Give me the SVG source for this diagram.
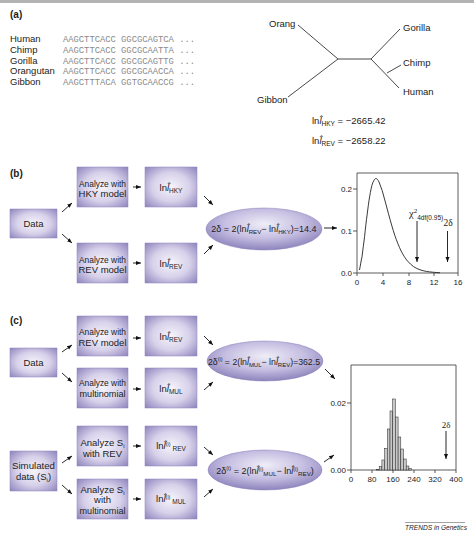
<svg xmlns="http://www.w3.org/2000/svg" width="474" height="537" viewBox="0 0 474 537">
<style>
text{font-family:"Liberation Sans",Arial,sans-serif;fill:#222}
.lab{font-size:10px;font-weight:bold}
.nm{font-size:9.5px}
.seq{font-family:"Liberation Mono","Courier New",monospace;font-size:8.8px;fill:#8a8a8a}
.bt{font-size:9.5px;text-anchor:middle}
.f{font-size:9px;text-anchor:middle}
.s{font-size:6.2px}
.it{font-style:italic}
.tk{font-size:8px}
.ser{font-family:"Liberation Serif","Times New Roman",serif}
.box{fill:url(#bg);stroke:#8d84bd;stroke-width:0.5}
.ell{fill:url(#eg);stroke:#8a80bb;stroke-width:0.5}
.ar{stroke:#111;stroke-width:0.9;fill:none;marker-end:url(#ah)}
.ax{stroke:#333;stroke-width:0.8;fill:none}
.tree{stroke:#333;stroke-width:0.9;fill:none}
</style>
<defs>
<radialGradient id="bg" cx="0.5" cy="0.5" r="0.72">
<stop offset="0" stop-color="#f6f4fb"/>
<stop offset="0.5" stop-color="#d7d1ea"/>
<stop offset="1" stop-color="#8a7fba"/>
</radialGradient>
<radialGradient id="eg" cx="0.5" cy="0.38" r="0.68">
<stop offset="0" stop-color="#efedf7"/>
<stop offset="0.5" stop-color="#c6bfe2"/>
<stop offset="1" stop-color="#8177b4"/>
</radialGradient>
<marker id="ah" viewBox="0 0 10 10" refX="10" refY="5" markerWidth="5" markerHeight="5" markerUnits="userSpaceOnUse" orient="auto">
<path d="M0,1 L10,5 L0,9 z" fill="#111"/>
</marker>
</defs>
<rect x="0" y="0" width="474" height="3" fill="#b3b3b3"/>

<g id="panel-a">
<text class="lab" x="10" y="18">(a)</text>
<text class="nm" x="10" y="42">Human</text>
<text class="nm" x="10" y="53">Chimp</text>
<text class="nm" x="10" y="63.5">Gorilla</text>
<text class="nm" x="10" y="74">Orangutan</text>
<text class="nm" x="10" y="84.5">Gibbon</text>
<text class="seq" x="63" y="42">AAGCTTCACC GGCGCAGTCA ...</text>
<text class="seq" x="63" y="53">AAGCTTCACC GGCGCAATTA ...</text>
<text class="seq" x="63" y="63.5">AAGCTTCACC GGCGCAGTTG ...</text>
<text class="seq" x="63" y="74">AAGCTTCACC GGCGCAACCA ...</text>
<text class="seq" x="63" y="84.5">AAGCTTTACA GGTGCAACCG ...</text>
<g id="tree">
<path class="tree" d="M298,25 L338,59 L288,97 M338,59 L371,59 L400,29 M371,59 L399,88 M387,73 L401,65"/>
<text class="nm" x="269" y="27">Orang</text>
<text class="nm" x="257" y="103">Gibbon</text>
<text class="nm" x="403" y="31">Gorilla</text>
<text class="nm" x="403" y="66">Chimp</text>
<text class="nm" x="403" y="95">Human</text>
</g>
<text font-size="9.5" x="312" y="124">ln<tspan class="it">l̂</tspan><tspan font-size="6.5" dy="2">HKY</tspan><tspan dy="-2"> =  −2665.42</tspan></text>
<text font-size="9.5" x="312" y="144">ln<tspan class="it">l̂</tspan><tspan font-size="6.5" dy="2">REV</tspan><tspan dy="-2"> =  −2658.22</tspan></text>
</g>

<text class="lab" x="10" y="177">(b)</text>
<g id="b-data"><rect class="box" x="10" y="209" width="47" height="29"/><text class="bt" x="33.5" y="227">Data</text></g>
<g id="b-hky"><rect class="box" x="77" y="167" width="51" height="40"/><text class="bt" x="102.5" y="186.5" textLength="47" lengthAdjust="spacingAndGlyphs">Analyze with</text><text class="bt" x="102.5" y="197">HKY model</text></g>
<g id="b-lhky"><rect class="box" x="145" y="167" width="52" height="40"/><text class="bt" x="171" y="191">ln<tspan class="it">l̂</tspan><tspan font-size="6.5" dy="2">HKY</tspan></text></g>
<g id="b-rev"><rect class="box" x="77" y="243" width="51" height="40"/><text class="bt" x="102.5" y="262.5" textLength="47" lengthAdjust="spacingAndGlyphs">Analyze with</text><text class="bt" x="102.5" y="273">REV model</text></g>
<g id="b-lrev"><rect class="box" x="145" y="243" width="52" height="40"/><text class="bt" x="171" y="267">ln<tspan class="it">l̂</tspan><tspan font-size="6.5" dy="2">REV</tspan></text></g>
<g id="b-ell"><ellipse class="ell" cx="264" cy="229" rx="58" ry="21"/>
<text class="f" x="264" y="232">2δ = 2(ln<tspan class="it">l̂</tspan><tspan class="s" dy="2">REV</tspan><tspan dy="-2">− ln</tspan><tspan class="it">l̂</tspan><tspan class="s" dy="2">HKY</tspan><tspan dy="-2">)=14.4</tspan></text></g>

<g id="b-chart">
<path class="ax" d="M357,173 H458 V273 H357 Z M353,189 H357 M353,231 H357 M353,273 H357 M357,273 V276 M383,273 V276 M409,273 V276 M434,273 V276 M458,273 V276"/>
<text class="tk" x="352" y="192" text-anchor="end">0.2</text>
<text class="tk" x="352" y="234" text-anchor="end">0.1</text>
<text class="tk" x="352" y="276" text-anchor="end">0.0</text>
<text class="tk" x="357" y="285" text-anchor="middle">0</text>
<text class="tk" x="383" y="285" text-anchor="middle">4</text>
<text class="tk" x="409" y="285" text-anchor="middle">8</text>
<text class="tk" x="434" y="285" text-anchor="middle">12</text>
<text class="tk" x="458" y="285" text-anchor="middle">16</text>
<path d="M359.5,270 C360.5,265 361,261 362,256.8 C363,250 363.6,243 364.6,236.4 C365.4,229 366.2,221 367.1,214.9 C368,208 368.7,202 369.6,196.9 C370.6,191 371.5,186 372.75,182.8 C374,180 375,178.5 375.9,178.5 C377,178.5 378,180 379.05,182 C380,184.5 381,187.5 382.2,190.6 C384.3,198 386.4,206 388.5,213.8 C390.6,221.5 392.7,229 394.8,235.4 C396.9,241.5 399,246.5 401.1,251 C403.2,255 405.3,258.5 407.4,260.9 C409.5,263.3 411.6,265.2 413.7,266.7 C416,268.2 418,269.1 420,269.8 C422,270.5 424.3,271 426.3,271.4 C428.5,271.8 430.5,272 432.6,272.2 C435,272.4 437,272.6 440,272.8" fill="none" stroke="#222" stroke-width="0.9"/>
<text class="ser" font-size="10.5" x="409" y="217">χ<tspan font-size="7" dy="-4">2</tspan><tspan font-size="6.5" dy="6.5" font-family="Liberation Sans, Arial, sans-serif">4df(0.95)</tspan></text>
<line class="ar" x1="417" y1="221" x2="417" y2="262"/>
<text class="ser" font-size="9.5" x="448" y="226" text-anchor="middle">2δ</text>
<line class="ar" x1="447.5" y1="231" x2="447.5" y2="262"/>
</g>

<text class="lab" x="10" y="324">(c)</text>
<g id="c-rev"><rect class="box" x="77" y="316" width="51" height="40"/><text class="bt" x="102.5" y="335" textLength="47" lengthAdjust="spacingAndGlyphs">Analyze with</text><text class="bt" x="102.5" y="345.5">REV model</text></g>
<g id="c-lrev"><rect class="box" x="145" y="316" width="52" height="40"/><text class="bt" x="171" y="340">ln<tspan class="it">l̂</tspan><tspan font-size="6.5" dy="2">REV</tspan></text></g>
<g id="c-data"><rect class="box" x="10" y="348" width="47" height="29"/><text class="bt" x="33.5" y="366">Data</text></g>
<g id="c-mul"><rect class="box" x="77" y="368" width="51" height="40"/><text class="bt" x="102.5" y="386" textLength="47" lengthAdjust="spacingAndGlyphs">Analyze with</text><text class="bt" x="102.5" y="396.5" textLength="46" lengthAdjust="spacingAndGlyphs">multinomial</text></g>
<g id="c-lmul"><rect class="box" x="145" y="368" width="52" height="40"/><text class="bt" x="171" y="392">ln<tspan class="it">l̂</tspan><tspan font-size="6.5" dy="2">MUL</tspan></text></g>
<g id="c-ell"><ellipse class="ell" cx="265" cy="361" rx="58" ry="20"/>
<text class="f" x="264" y="364.5" textLength="112" lengthAdjust="spacingAndGlyphs">2δ<tspan font-size="5.5" dy="-3.5">(i)</tspan><tspan dy="3.5"> = 2(ln</tspan><tspan class="it">l̂</tspan><tspan class="s" dy="2">MUL</tspan><tspan dy="-2">− ln</tspan><tspan class="it">l̂</tspan><tspan class="s" dy="2">REV</tspan><tspan dy="-2">)=362.5</tspan></text></g>

<g id="s-rev"><rect class="box" x="77" y="426" width="51" height="40"/><text class="bt" x="102.5" y="446">Analyze S<tspan class="s" dy="2">i</tspan></text><text class="bt" x="102.5" y="456.5">with REV</text></g>
<g id="s-lrev"><rect class="box" x="145" y="426" width="52" height="40"/><text class="bt" x="171" y="449">ln<tspan class="it">l̂</tspan><tspan font-size="5.5" dy="-3">(i)</tspan><tspan font-size="6.5" dy="5"> REV</tspan></text></g>
<g id="s-data"><rect class="box" x="10" y="451" width="47" height="40"/><text class="bt" x="33.5" y="469" textLength="43" lengthAdjust="spacingAndGlyphs">Simulated</text><text class="bt" x="33.5" y="479.5">data (S<tspan class="s" dy="2">i</tspan><tspan dy="-2">)</tspan></text></g>
<g id="s-mul"><rect class="box" x="77" y="479" width="51" height="40"/><text class="bt" x="102.5" y="493">Analyze S<tspan class="s" dy="2">i</tspan></text><text class="bt" x="102.5" y="503">with</text><text class="bt" x="102.5" y="513.5" textLength="46" lengthAdjust="spacingAndGlyphs">multinomial</text></g>
<g id="s-lmul"><rect class="box" x="145" y="479" width="52" height="40"/><text class="bt" x="171" y="502">ln<tspan class="it">l̂</tspan><tspan font-size="5.5" dy="-3">(i)</tspan><tspan font-size="6.5" dy="5"> MUL</tspan></text></g>
<g id="s-ell"><ellipse class="ell" cx="265" cy="470" rx="57" ry="20"/>
<text class="f" x="265" y="473.5">2δ<tspan font-size="5.5" dy="-3.5">(i)</tspan><tspan dy="3.5"> = 2(ln</tspan><tspan class="it">l̂</tspan><tspan font-size="5.5" dy="-3">(i)</tspan><tspan class="s" dy="5">MUL</tspan><tspan dy="-2">− ln</tspan><tspan class="it">l̂</tspan><tspan font-size="5.5" dy="-3">(i)</tspan><tspan class="s" dy="5">REV</tspan><tspan dy="-2">)</tspan></text></g>

<g id="hist">
<path class="ax" d="M351,365 H456 V470 H351 Z M347,403 H351 M347,470 H351 M351,470 V473 M372,470 V473 M393,470 V473 M414,470 V473 M435,470 V473 M456,470 V473"/>
<text class="tk" x="346" y="406" text-anchor="end">0.02</text>
<text class="tk" x="346" y="473" text-anchor="end">0.00</text>
<text class="tk" x="351" y="482" text-anchor="middle">0</text>
<text class="tk" x="372" y="482" text-anchor="middle">80</text>
<text class="tk" x="393" y="482" text-anchor="middle">160</text>
<text class="tk" x="414" y="482" text-anchor="middle">240</text>
<text class="tk" x="435" y="482" text-anchor="middle">320</text>
<text class="tk" x="456" y="482" text-anchor="middle">400</text>
<g fill="#c8c8c8" stroke="#222" stroke-width="0.5">
<rect x="376.5" y="469.3" width="2.7" height="0.7"/>
<rect x="379.2" y="466.7" width="2.7" height="3.3"/>
<rect x="381.9" y="460" width="2.7" height="10"/>
<rect x="384.6" y="448.3" width="2.7" height="21.7"/>
<rect x="387.3" y="429" width="2.7" height="41"/>
<rect x="390" y="411" width="2.7" height="59"/>
<rect x="392.7" y="399" width="2.7" height="71"/>
<rect x="395.4" y="417" width="2.7" height="53"/>
<rect x="398.1" y="437" width="2.7" height="33"/>
<rect x="400.8" y="449" width="2.7" height="21"/>
<rect x="403.5" y="459" width="2.7" height="11"/>
<rect x="406.2" y="466" width="2.7" height="4"/>
<rect x="408.9" y="468.7" width="2.7" height="1.3"/>
</g>
<text class="ser" font-size="9" x="446" y="428" text-anchor="middle">2δ</text>
<line class="ar" x1="446" y1="431" x2="446" y2="459"/>
</g>

<g id="connectors">
<line class="ar" x1="62" y1="212" x2="72" y2="203"/>
<line class="ar" x1="62" y1="234" x2="72" y2="243"/>
<line class="ar" x1="133" y1="187" x2="141" y2="187"/>
<line class="ar" x1="133" y1="263" x2="141" y2="263"/>
<line class="ar" x1="204" y1="196" x2="213" y2="205"/>
<line class="ar" x1="204" y1="254" x2="213" y2="245"/>
<line class="ar" x1="324" y1="228" x2="337" y2="228"/>
<line class="ar" x1="62" y1="352" x2="72" y2="345"/>
<line class="ar" x1="62" y1="373" x2="72" y2="382"/>
<line class="ar" x1="133" y1="338" x2="141" y2="338"/>
<line class="ar" x1="133" y1="389" x2="141" y2="389"/>
<line class="ar" x1="204" y1="336" x2="213" y2="345"/>
<line class="ar" x1="204" y1="390" x2="213" y2="382"/>
<line class="ar" x1="325" y1="369" x2="335" y2="379"/>
<line class="ar" x1="62" y1="463" x2="72" y2="456"/>
<line class="ar" x1="62" y1="485" x2="72" y2="494"/>
<line class="ar" x1="133" y1="446" x2="141" y2="446"/>
<line class="ar" x1="133" y1="499" x2="141" y2="499"/>
<line class="ar" x1="204" y1="447" x2="213" y2="455"/>
<line class="ar" x1="204" y1="497" x2="213" y2="489"/>
<line class="ar" x1="324" y1="462" x2="334" y2="455"/>
</g>

<g id="credit">
<line x1="405" y1="522.5" x2="465" y2="522.5" stroke="#444" stroke-width="0.5"/>
<text x="405" y="529.5" font-size="6.6" font-style="italic" fill="#333">TRENDS in Genetics</text>
</g>
</svg>
